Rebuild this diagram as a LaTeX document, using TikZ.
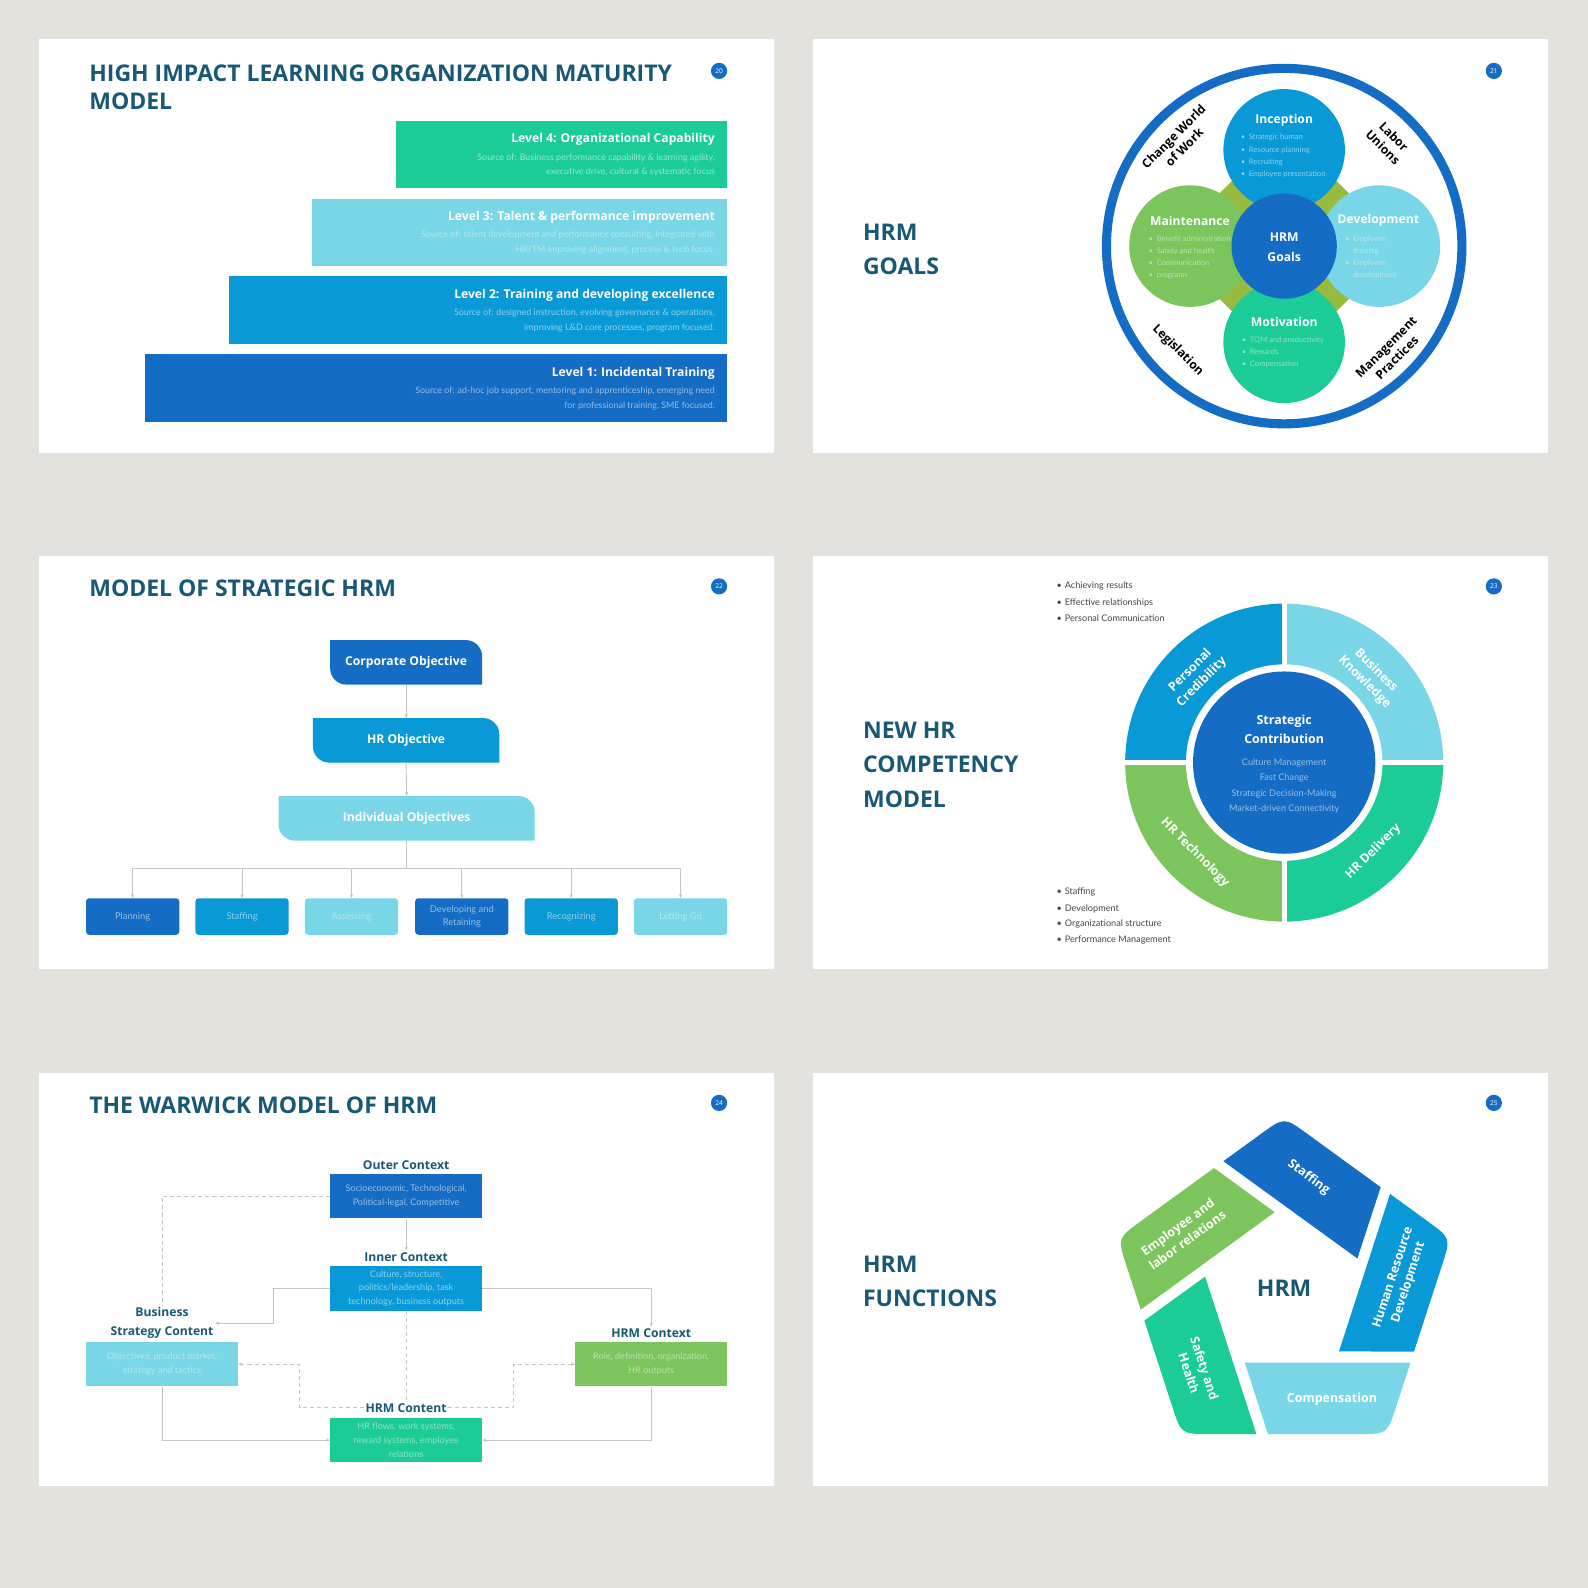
\documentclass[tikz,border=0pt]{standalone}
\usepackage{fontspec}
\setmainfont{Open Sans}
\newfontfamily\lato{Lato}
\usetikzlibrary{calc,arrows.meta}
\definecolor{bgc}{RGB}{228,226,221}
\definecolor{ttl}{RGB}{24,88,116}
\definecolor{dblue}{RGB}{21,108,197}
\definecolor{mblue}{RGB}{9,153,214}
\definecolor{lcyan}{RGB}{121,214,230}
\definecolor{cteal}{RGB}{27,204,150}
\definecolor{cgreen}{RGB}{123,197,92}
\definecolor{colive}{RGB}{152,186,62}
\definecolor{lgray}{RGB}{196,196,196}
\definecolor{btxt}{RGB}{70,70,70}
\newcommand\leaf[5]{\fill[#5] (#1,#2) -- ({#3-16},#2) .. controls ({#3-7.2},#2) and (#3,{#2+7.2}) .. (#3,{#2+16}) -- (#3,#4) -- ({#1+16},#4) .. controls ({#1+7.2},#4) and (#1,{#4-7.2}) .. (#1,{#4-16}) -- cycle;}
\newcommand\bl{\makebox[8pt][l]{\textbullet}}
\newcommand\nb{\hspace*{8pt}}
\begin{document}
\begin{tikzpicture}[x=1pt,y=-1pt,
  ttlnode/.style={anchor=base west, text=ttl, inner sep=0pt, font=\fontsize{22.7}{27}\selectfont\bfseries},
  badge/.style={circle, fill=dblue, text=white, minimum size=16pt, inner sep=0pt, font=\fontsize{6.5}{7}\selectfont},
  lvh/.style={anchor=east, inner sep=0pt, text=white, font=\fontsize{12}{14}\selectfont\bfseries},
  lvs/.style={anchor=east, inner sep=0pt, align=right, font=\lato\fontsize{8.8}{14}\selectfont},
  disc/.style={circle, inner sep=0pt, minimum size=120pt},
  ctitle/.style={inner sep=0pt, text=white, font=\fontsize{12}{19}\selectfont\bfseries, align=center},
  cbul/.style={anchor=west, inner sep=0pt, align=left, font=\lato\fontsize{7.5}{12}\selectfont},
  rlab/.style={inner sep=0pt, align=center, text=black, font=\fontsize{12}{15}\selectfont\bfseries},
  obj/.style={inner sep=0pt, text=white, font=\fontsize{12}{14}\selectfont\bfseries},
  sbox/.style={rounded corners=3pt, minimum width=92pt, minimum height=36pt, inner sep=0pt, align=center, font=\lato\fontsize{9.2}{13}\selectfont},
  conn/.style={draw=lgray, line width=0.9pt, -{Stealth[length=4pt,width=3.5pt]}},
  plainln/.style={draw=lgray, line width=0.9pt},
  dconn/.style={draw=lgray, line width=0.9pt, dash pattern=on 4pt off 3pt},
  pbul/.style={anchor=west, inner sep=0pt, text=btxt, font=\lato\fontsize{9}{10}\selectfont},
  wlab/.style={inner sep=0pt, text=white, align=center, font=\fontsize{12.3}{16}\selectfont\bfseries},
  wbox/.style={minimum width=150pt, minimum height=44pt, inner sep=0pt, align=center, font=\lato\fontsize{9}{13.5}\selectfont},
  wlbl/.style={inner sep=1.5pt, text=ttl, align=center, font=\fontsize{12}{19}\selectfont\bfseries},
]
\fill[bgc] (0,0) rectangle (1568,1568);
\useasboundingbox (0,0) rectangle (1568,1568);

% ---------------- Slide 1
\fill[white] (39,39) rectangle (764,447);
\node[ttlnode] (t1a) at (88,80) {HIGH IMPACT LEARNING ORGANIZATION MATURITY};
\node[ttlnode] (t1b) at (88,108) {MODEL};
\node[badge] (b20) at (710,70) {20};
\fill[cteal] (391,119) rectangle (718,186);
\node[lvh] (l4h) at (706,138) {Level 4: Organizational Capability};
\node[lvs, text=white!55!cteal] (l4s) at (706,162.5) {Source of: Business performance capability \& learning agility,\\executive drive, cultural \& systematic focus};
\fill[lcyan] (308,196) rectangle (718,263);
\node[lvh] (l3h) at (706,215) {Level 3: Talent \& performance improvement};
\node[lvs, text=white!45!lcyan] (l3s) at (706,239.5) {Source of: talent development and performance consulting, integrated with\\HR/TM improving alignment, process \& tech focus.};
\fill[mblue] (226,273) rectangle (718,340);
\node[lvh] (l2h) at (706,292) {Level 2: Training and developing excellence};
\node[lvs, text=white!55!mblue] (l2s) at (706,316.5) {Source of: designed instruction, evolving governance \& operations,\\improving L\&D core processes, program focused.};
\fill[dblue] (143,350) rectangle (718,417);
\node[lvh] (l1h) at (706,369) {Level 1: Incidental Training};
\node[lvs, text=white!55!dblue] (l1s) at (706,393.5) {Source of: ad-hoc job support, mentoring and apprenticeship, emerging need\\for professional training, SME focused.};

% ---------------- Slide 2
\fill[white] (803,39) rectangle (1528,447);
\node[ttlnode] (t2a) at (852,237) {HRM};
\node[ttlnode] (t2b) at (852,271) {GOALS};
\node[badge] (b21) at (1475,70) {21};
\draw[dblue, line width=9pt] (1268,243) circle (175.5pt);
\fill[colive] (1152,243) -- (1268,127) -- (1384,243) -- (1268,359) -- cycle;
\node[disc, fill=mblue] (inc) at (1268,148) {};
\node[disc, fill=cgreen] (mai) at (1175,243) {};
\node[disc, fill=lcyan] (dev) at (1362,243) {};
\node[disc, fill=cteal] (mot) at (1268,338) {};
\node[ctitle] (inct) at (1268,119) {Inception};
\node[cbul, text=white!55!mblue] (incb) at (1225,154) {\bl Strategic human\\\bl Resource planning\\\bl Recruiting\\\bl Employee presentation};
\node[ctitle] (mait) at (1175,218) {Maintenance};
\node[cbul, text=white!50!cgreen] (maib) at (1134,254) {\bl Benefit administration\\\bl Safety and health\\\bl Communication\\\bl programs};
\node[ctitle] (devt) at (1361,218) {Development};
\node[cbul, text=white!45!lcyan] (devb) at (1328,254) {\bl Employee\\\nb training\\\bl Employee\\\nb development};
\node[ctitle] (mott) at (1268,318) {Motivation};
\node[cbul, text=white!50!cteal] (motb) at (1226,348) {\bl TQM and productivity\\\bl Rewards\\\bl Compensation};
\node[disc, fill=dblue, minimum size=104pt] (hg) at (1268,243) {};
\node[ctitle] (hgt) at (1268,244) {HRM\\Goals};
\node[rlab, rotate=45] (cw) at (1164,140) {Change World\\of Work};
\node[rlab, rotate=-45] (lu) at (1371,140) {Labor\\Unions};
\node[rlab, rotate=-45] (leg) at (1163,346) {Legislation};
\node[rlab, rotate=45] (mp) at (1374,348) {Management\\Practices};

% ---------------- Slide 3
\fill[white] (39,549) rectangle (764,957);
\node[ttlnode] (t3) at (88,589) {MODEL OF STRATEGIC HRM};
\node[badge] (b22) at (710,579) {22};
\leaf{326}{632}{476}{676}{dblue}
\node[obj, minimum width=150pt, minimum height=44pt] (corp) at (401,654) {Corporate Objective};
\leaf{309}{709}{493}{753}{mblue}
\node[obj, minimum width=184pt, minimum height=44pt] (hro) at (401,731) {HR Objective};
\leaf{275}{786}{528}{830}{lcyan}
\node[obj, minimum width=253pt, minimum height=44pt] (ind) at (401.5,808) {Individual Objectives};
\node[sbox, fill=dblue, text=white!55!dblue] (pl) at (131,905) {Planning};
\node[sbox, fill=mblue, text=white!55!mblue] (st) at (239,905) {Staffing};
\node[sbox, fill=lcyan, text=white!45!lcyan] (as) at (347,905) {Assessing};
\node[sbox, fill=dblue, text=white!55!dblue] (dr) at (456,905) {Developing and\\Retaining};
\node[sbox, fill=mblue, text=white!55!mblue] (rg) at (564,905) {Recognizing};
\node[sbox, fill=lcyan, text=white!45!lcyan] (lg) at (672,905) {Letting Go};
\draw[conn] (corp.south) -- (hro.north);
\draw[conn] (hro.south) -- (ind.north);
\coordinate (hub) at (401.5,858);
\draw[plainln] (ind.south) -- (hub);
\foreach \b in {pl,st,as,dr,rg,lg} \draw[conn] (hub) -| (\b.north);

% ---------------- Slide 4
\fill[white] (803,549) rectangle (1528,957);
\node[ttlnode] (t4a) at (852,729) {NEW HR};
\node[ttlnode] (t4b) at (852,763) {COMPETENCY};
\node[ttlnode] (t4c) at (852,797) {MODEL};
\node[badge] (b23) at (1475,579) {23};
\node[pbul] (p1) at (1043,579) {\textbullet\hspace{3pt}Achieving results};
\node[pbul] (p2) at (1043,595) {\textbullet\hspace{3pt}Effective relationships};
\node[pbul] (p3) at (1043,610) {\textbullet\hspace{3pt}Personal Communication};
\node[pbul] (q1) at (1043,881) {\textbullet\hspace{3pt}Staffing};
\node[pbul] (q2) at (1043,897) {\textbullet\hspace{3pt}Development};
\node[pbul] (q3) at (1043,912) {\textbullet\hspace{3pt}Organizational structure};
\node[pbul] (q4) at (1043,928) {\textbullet\hspace{3pt}Performance Management};
\coordinate (cc4) at (1268,753);
\begin{scope}\clip (1100,590) rectangle (1268,753); \fill[mblue] (cc4) circle (157pt); \end{scope}
\begin{scope}\clip (1268,590) rectangle (1440,753); \fill[lcyan] (cc4) circle (157pt); \end{scope}
\begin{scope}\clip (1100,753) rectangle (1268,920); \fill[cgreen] (cc4) circle (157pt); \end{scope}
\begin{scope}\clip (1268,753) rectangle (1440,920); \fill[cteal] (cc4) circle (157pt); \end{scope}
\fill[white] (cc4) circle (97pt);
\draw[white, line width=5pt] (1268,590) -- (1268,916);
\draw[white, line width=5pt] (1105,753) -- (1431,753);
\node[circle, fill=dblue, minimum size=180pt, inner sep=0pt] (scn) at (cc4) {};
\node[wlab, font=\fontsize{12.3}{19}\selectfont\bfseries] (sct) at (1268,720.5) {Strategic\\Contribution};
\node[inner sep=0pt, align=center, text=white!55!dblue, font=\lato\fontsize{9}{15.3}\selectfont] (scl) at (1268,776) {Culture Management\\Fast Change\\Strategic Decision-Making\\Market-driven Connectivity};
\node[wlab, rotate=45] (pc) at (1181,668) {Personal\\Credibility};
\node[wlab, rotate=-45] (bk) at (1353,668) {Business\\Knowledge};
\node[wlab, rotate=-45] (hrt) at (1180,842) {HR Technology};
\node[wlab, rotate=45] (hrd) at (1356,841) {HR Delivery};

% ---------------- Slide 5
\fill[white] (39,1059) rectangle (764,1467);
\node[ttlnode] (t5) at (88,1099) {THE WARWICK MODEL OF HRM};
\node[badge] (b24) at (710,1089) {24};
\node[wbox, fill=dblue, text=white!55!dblue] (oc) at (401,1181) {Socioeconomic, Technological,\\Political-legal, Competitive};
\node[wbox, fill=mblue, text=white!55!mblue] (ic) at (401,1272) {Culture, structure,\\politics/leadership, task\\technology, business outputs};
\node[wbox, fill=lcyan, text=white!45!lcyan] (bz) at (160,1347) {Objectives, product market,\\strategy and tactics};
\node[wbox, fill=cgreen, text=white!50!cgreen] (hx) at (643,1347) {Role, definition, organization,\\HR outputs};
\node[wbox, fill=cteal, text=white!50!cteal] (hn) at (401,1422) {HR flows, work systems,\\reward systems, employee\\relations};
\node[wlbl] (ocl) at (401,1150) {Outer Context};
\node[wlbl] (icl) at (401,1241) {Inner Context};
\node[wlbl] (bzl) at (160,1306.5) {Business\\Strategy Content};
\node[wlbl] (hxl) at (643,1316) {HRM Context};
\node[wlbl] (hnl) at (401,1390) {HRM Content};
\draw[conn] (oc.south) -- (icl.north);
\draw[dconn] (oc.west) -| (bzl.north);
\draw[conn] (ic.west) -- ++(-56,0) |- (bzl.east);
\draw[conn] (ic.east) -| (hxl.north);
\draw[dconn] (ic.south) -- (hnl.north);
\coordinate (jl) at (296,1347);
\coordinate (jr) at (507,1347);
\draw[dconn, -{Stealth[length=4pt,width=3.5pt]}] (hnl.west) -| (jl) -- (bz.east);
\draw[dconn, -{Stealth[length=4pt,width=3.5pt]}] (hnl.east) -| (jr) -- (hx.west);
\draw[conn] (bz.south) |- (hn.west);
\draw[conn] (hx.south) |- (hn.east);

% ---------------- Slide 6
\fill[white] (803,1059) rectangle (1528,1467);
\node[ttlnode] (t6a) at (852,1256) {HRM};
\node[ttlnode] (t6b) at (852,1290) {FUNCTIONS};
\node[badge] (b25) at (1475,1089) {25};
\coordinate (po) at (1268,1276);
\foreach \k/\c in {0/dblue,1/mblue,2/lcyan,3/cteal,4/cgreen}{
  \pgfmathsetmacro\ang{72*\k}
  \coordinate (sA\k) at ($(po)+({\ang-114.9}:142.7)$);
  \coordinate (sV\k) at ($(po)+({\ang-90}:173)$);
  \coordinate (sC\k) at ($(po)+({\ang-47.45}:140.9)$);
  \coordinate (sD\k) at ($(po)+({\ang-24.8}:79.6)$);
  \fill[\c] (sA\k) -- ($(sV\k)!28pt!(sA\k)$) .. controls (sV\k) .. ($(sV\k)!28pt!(sC\k)$) -- (sC\k) -- (sD\k) -- cycle;
}
\node[wlab, rotate=-36] (sg0) at ($(po)+(-78:116)$) {Staffing};
\node[wlab, rotate=72] (sg1) at ($(po)+(-6:116)$) {Human Resource\\Development};
\node[wlab] (sg2) at ($(po)+(66:116)$) {Compensation};
\node[wlab, rotate=-72] (sg3) at ($(po)+(138:116)$) {Safety and\\Health};
\node[wlab, rotate=36] (sg4) at ($(po)+(210:116)$) {Employee and\\labor relations};
\node[ttlnode, anchor=center] (hrmc) at (1268,1272) {HRM};
\end{tikzpicture}
\end{document}
